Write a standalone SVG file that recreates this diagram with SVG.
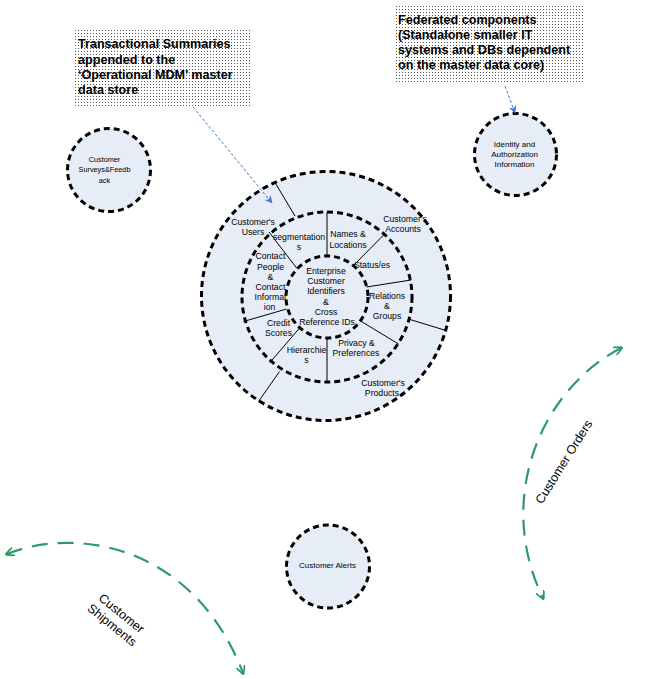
<svg xmlns="http://www.w3.org/2000/svg" width="650" height="679" viewBox="0 0 650 679">
<style>
.ring{fill:#E7EDF7;stroke:#000;stroke-width:3;stroke-dasharray:6 4}
.spoke{stroke:#000;stroke-width:1;fill:none}
.lbl{font-family:"Liberation Sans",Arial,sans-serif;font-size:8.7px;fill:#000;text-anchor:middle}
.sml{font-family:"Liberation Sans",Arial,sans-serif;font-size:8px;fill:#000;text-anchor:middle}
.note{font-family:"Liberation Sans",Arial,sans-serif;font-size:12.6px;font-weight:bold;fill:#000}
.flow{font-family:"Liberation Sans",Arial,sans-serif;font-size:12.5px;fill:#000;text-anchor:middle}
.blue{stroke:#4A78C8;stroke-width:1;stroke-dasharray:3 2;fill:none;marker-end:url(#blueHead)}
.green{stroke:#2E9A68;stroke-width:2.2;stroke-dasharray:16 10;fill:none;marker-start:url(#greenHead);marker-end:url(#greenHead)}
</style>
<defs>
<pattern id="dots" width="3" height="3" patternUnits="userSpaceOnUse">
<rect x="0" y="0" width="1" height="1" fill="#555"/>
</pattern>
<marker id="blueHead" viewBox="0 0 10 10" refX="9" refY="5" markerWidth="8" markerHeight="8" markerUnits="userSpaceOnUse" orient="auto">
<path d="M0,0 L10,5 L0,10 L3,5 Z" fill="#4A78C8"/>
</marker>
<marker id="greenHead" viewBox="0 0 10 10" refX="8" refY="5" markerWidth="9" markerHeight="9" markerUnits="userSpaceOnUse" orient="auto-start-reverse">
<path d="M0,0 L10,5 L0,10" fill="none" stroke="#2E9A68" stroke-width="2"/>
</marker>
</defs>
<rect width="650" height="679" fill="#fff"/>

<g id="note-transactional">
<rect x="75" y="29" width="175" height="78" fill="url(#dots)"/>
<text class="note" x="78" y="48">Transactional Summaries</text>
<text class="note" x="78" y="64">appended to the</text>
<text class="note" x="78" y="79">‘Operational MDM’ master</text>
<text class="note" x="78" y="94">data store</text>
</g>

<g id="note-federated">
<rect x="395" y="4" width="190" height="79" fill="url(#dots)"/>
<text class="note" x="398" y="24">Federated components</text>
<text class="note" x="398" y="39">(Standalone smaller IT</text>
<text class="note" x="398" y="54">systems and DBs dependent</text>
<text class="note" x="398" y="69">on the master data core)</text>
</g>

<g id="node-surveys">
<circle class="ring" cx="109" cy="170" r="41.5"/>
<text class="sml" style="font-size:7.3px" x="104.5" y="162">Customer</text>
<text class="sml" style="font-size:7.3px" x="104.5" y="172">Surveys&amp;Feedb</text>
<text class="sml" style="font-size:7.3px" x="104.5" y="182.5">ack</text>
</g>

<g id="node-identity">
<circle class="ring" cx="515.5" cy="154.5" r="41"/>
<text class="sml" x="514.5" y="147">Identity and</text>
<text class="sml" x="514.5" y="157">Authorization</text>
<text class="sml" x="514.5" y="167">Information</text>
</g>

<g id="node-alerts">
<circle class="ring" cx="328" cy="566.5" r="41.5"/>
<text class="sml" x="327.5" y="568">Customer Alerts</text>
</g>

<g id="node-outer">
<circle class="ring" cx="326" cy="296" r="124.5"/>
</g>
<g id="node-middle">
<circle class="ring" cx="327" cy="297" r="85"/>
</g>
<g id="node-inner">
<circle class="ring" cx="327" cy="297" r="41"/>
</g>

<g id="connectors">
<line class="spoke" x1="275" y1="182.5" x2="295" y2="216"/>
<line class="spoke" x1="327" y1="212" x2="327" y2="256"/>
<line class="spoke" x1="269" y1="232" x2="297" y2="268.5"/>
<line class="spoke" x1="385" y1="233.5" x2="353" y2="266"/>
<line class="spoke" x1="366.5" y1="287" x2="411" y2="280"/>
<line class="spoke" x1="410" y1="319.5" x2="446" y2="330.5"/>
<line class="spoke" x1="359" y1="320" x2="398.5" y2="344"/>
<line class="spoke" x1="243.5" y1="321.5" x2="286.5" y2="309"/>
<line class="spoke" x1="300" y1="327.5" x2="270" y2="362.5"/>
<line class="spoke" x1="327" y1="338" x2="327" y2="382.5"/>
<line class="spoke" x1="279.5" y1="371.5" x2="258.5" y2="401.5"/>
<path class="blue" d="M193,107 L272,203"/>
<path class="blue" d="M505,86 L515,113"/>
<path class="green" d="M621,348 C540,390 495,500 543,598"/>
<path class="green" d="M7,554 C80,525 195,548 243,673"/>
</g>

<g id="labels">
<text class="lbl" x="253" y="225">Customer's</text>
<text class="lbl" x="253" y="235">Users</text>
<text class="lbl" x="299" y="240">segmentation</text>
<text class="lbl" x="299" y="250">s</text>
<text class="lbl" x="348" y="237">Names &amp;</text>
<text class="lbl" x="348" y="248">Locations</text>
<text class="lbl" x="405" y="222">Customer's</text>
<text class="lbl" x="403" y="232">Accounts</text>
<text class="lbl" x="372" y="268">Status/es</text>
<text class="lbl" x="326" y="274">Enterprise</text>
<text class="lbl" x="326" y="284">Customer</text>
<text class="lbl" x="326" y="294">Identifiers</text>
<text class="lbl" x="326" y="305">&amp;</text>
<text class="lbl" x="326" y="315">Cross</text>
<text class="lbl" x="327" y="325">Reference IDs</text>
<text class="lbl" x="270.5" y="259">Contact</text>
<text class="lbl" x="270.5" y="270">People</text>
<text class="lbl" x="270.5" y="280">&amp;</text>
<text class="lbl" x="270.5" y="290">Contact</text>
<text class="lbl" x="270.5" y="300">Informat</text>
<text class="lbl" x="269.5" y="310">ion</text>
<text class="lbl" x="387" y="299">Relations</text>
<text class="lbl" x="387" y="309">&amp;</text>
<text class="lbl" x="387" y="319">Groups</text>
<text class="lbl" x="278.5" y="326">Credit</text>
<text class="lbl" x="278.5" y="336">Scores</text>
<text class="lbl" x="356.5" y="346">Privacy &amp;</text>
<text class="lbl" x="356" y="356">Preferences</text>
<text class="lbl" x="306.5" y="352.5">Hierarchie</text>
<text class="lbl" x="306.5" y="362.5">s</text>
<text class="lbl" x="383" y="386">Customer's</text>
<text class="lbl" x="382" y="396">Products</text>
<text class="flow" transform="translate(564,462) rotate(-58)" x="0" y="4">Customer Orders</text>
<text class="flow" transform="translate(117,619) rotate(39)" x="0" y="-3">Customer</text>
<text class="flow" transform="translate(117,619) rotate(39)" x="0" y="12">Shipments</text>
</g>
</svg>
